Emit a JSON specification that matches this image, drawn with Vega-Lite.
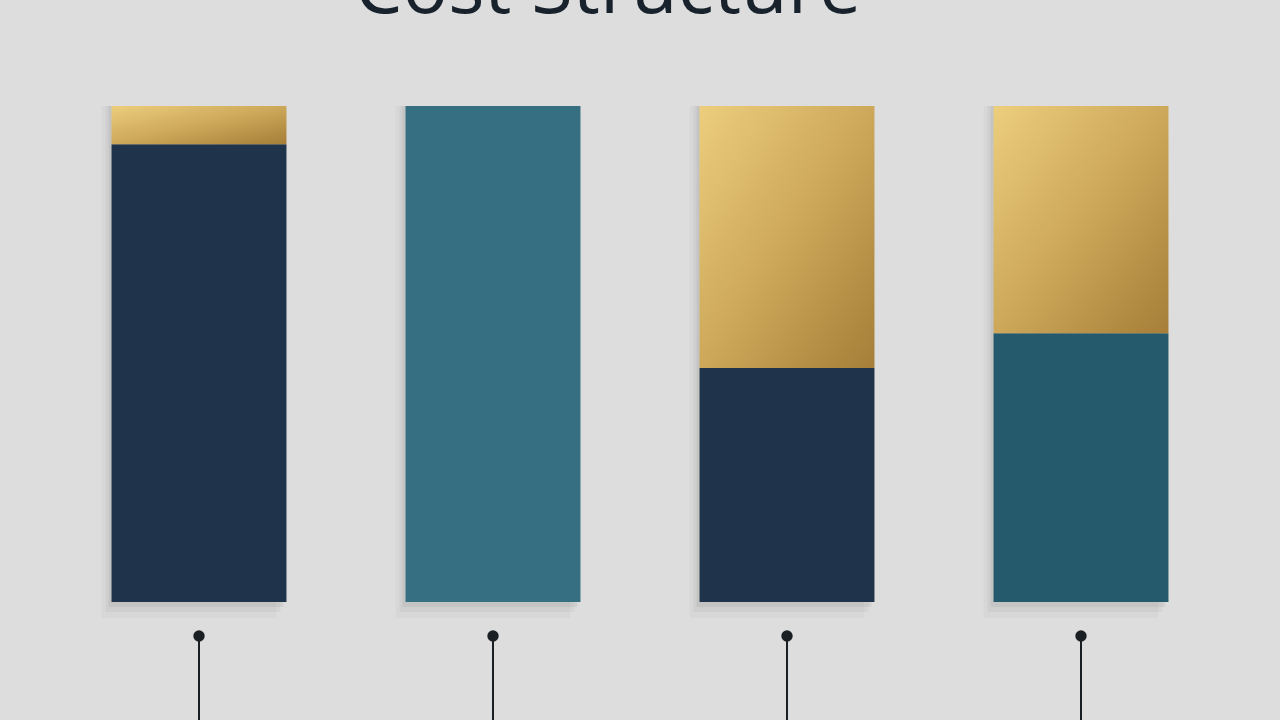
{
  "$schema": "https://vega.github.io/schema/vega-lite/v6.json",
  "autosize": {"type": "none"},
  "padding": {"left": 52, "right": 52, "top": 0, "bottom": 0},
  "width": 1176,
  "height": 720,
  "background": "#dcdddc",
  "config": {"view": {"stroke": null}},
  "title": {
    "text": "Cost Structure",
    "orient": "top",
    "anchor": "middle",
    "offset": -29,
    "dx": -32,
    "fontSize": 76,
    "font": "Open Sans",
    "fontWeight": 500,
    "color": "#18222c"
  },
  "datasets": {
    "segments": [
      {"bar": "Bar 1", "segment": "Gold", "lo": 92.3, "hi": 100},
      {"bar": "Bar 1", "segment": "Navy", "lo": 0, "hi": 92.3},
      {"bar": "Bar 2", "segment": "Teal", "lo": 0, "hi": 100},
      {"bar": "Bar 3", "segment": "Gold", "lo": 47.2, "hi": 100},
      {"bar": "Bar 3", "segment": "Navy", "lo": 0, "hi": 47.2},
      {"bar": "Bar 4", "segment": "Gold", "lo": 54.2, "hi": 100},
      {"bar": "Bar 4", "segment": "Deep Teal", "lo": 0, "hi": 54.2}
    ],
    "bars": [
      {"bar": "Bar 1", "base": 0, "total": 100},
      {"bar": "Bar 2", "base": 0, "total": 100},
      {"bar": "Bar 3", "base": 0, "total": 100},
      {"bar": "Bar 4", "base": 0, "total": 100}
    ]
  },
  "layer": [
    {
      "data": {"name": "bars"},
      "mark": {"type": "bar", "fill": "#000000", "fillOpacity": 0.025, "xOffset": -10, "yOffset": 16},
      "encoding": {
        "x": {"field": "bar", "type": "nominal", "axis": null,
              "scale": {"paddingInner": 0.405, "paddingOuter": 0.2025}},
        "y": {"field": "base", "type": "quantitative", "axis": null,
              "scale": {"domain": [-23.79, 121.37], "nice": false, "zero": false}},
        "y2": {"field": "total"}
      }
    },
    {
      "data": {"name": "bars"},
      "mark": {"type": "bar", "fill": "#000000", "fillOpacity": 0.035, "xOffset": -6, "yOffset": 10},
      "encoding": {
        "x": {"field": "bar", "type": "nominal"},
        "y": {"field": "base", "type": "quantitative"},
        "y2": {"field": "total"}
      }
    },
    {
      "data": {"name": "bars"},
      "mark": {"type": "bar", "fill": "#000000", "fillOpacity": 0.05, "xOffset": -3, "yOffset": 5},
      "encoding": {
        "x": {"field": "bar", "type": "nominal"},
        "y": {"field": "base", "type": "quantitative"},
        "y2": {"field": "total"}
      }
    },
    {
      "data": {"name": "segments"},
      "transform": [{"filter": "datum.segment !== 'Gold'"}],
      "mark": {"type": "bar"},
      "encoding": {
        "x": {"field": "bar", "type": "nominal"},
        "y": {"field": "lo", "type": "quantitative"},
        "y2": {"field": "hi"},
        "color": {"field": "segment", "type": "nominal", "legend": null,
                  "scale": {"domain": ["Navy", "Teal", "Deep Teal"],
                            "range": ["#1f344a", "#356f81", "#245a6b"]}}
      }
    },
    {
      "data": {"name": "segments"},
      "transform": [{"filter": "datum.segment === 'Gold'"}],
      "mark": {
        "type": "bar",
        "color": {
          "gradient": "linear", "x1": 0, "y1": 0, "x2": 1, "y2": 1,
          "stops": [
            {"offset": 0, "color": "#ecce7d"},
            {"offset": 0.5, "color": "#cda85a"},
            {"offset": 1, "color": "#a67e38"}
          ]
        }
      },
      "encoding": {
        "x": {"field": "bar", "type": "nominal"},
        "y": {"field": "lo", "type": "quantitative"},
        "y2": {"field": "hi"}
      }
    },
    {
      "data": {"name": "bars"},
      "mark": {"type": "rule", "color": "#1a1f24", "strokeWidth": 2},
      "encoding": {
        "x": {"field": "bar", "type": "nominal"},
        "y": {"datum": -6.85},
        "y2": {"datum": -23.79}
      }
    },
    {
      "data": {"name": "bars"},
      "mark": {"type": "point", "filled": true, "opacity": 1, "color": "#1a1f24", "size": 130},
      "encoding": {
        "x": {"field": "bar", "type": "nominal"},
        "y": {"datum": -6.85}
      }
    }
  ]
}
